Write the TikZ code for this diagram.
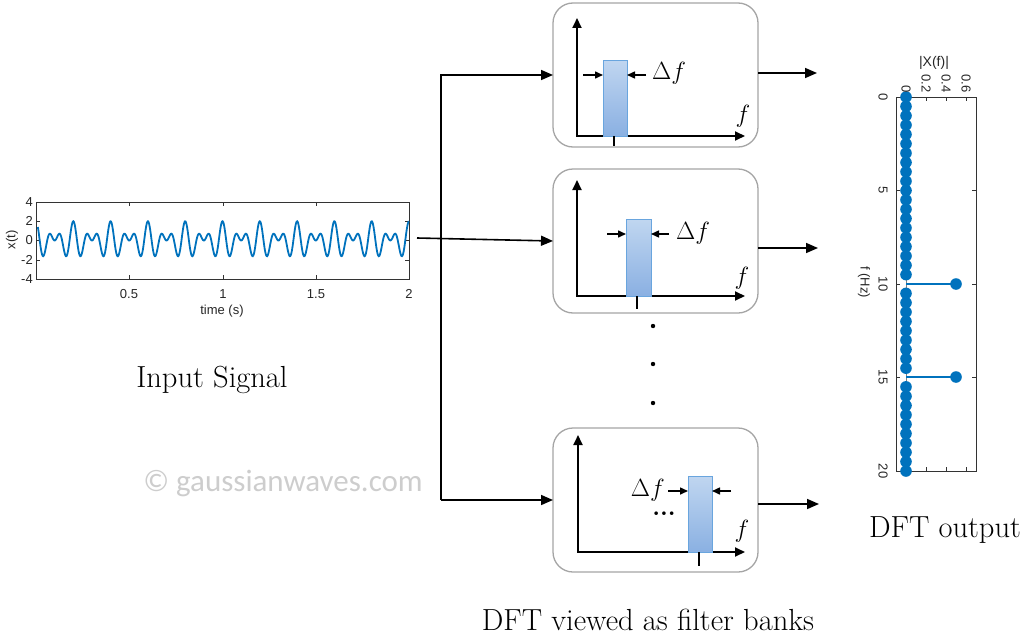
\documentclass[tikz,border=0pt]{standalone}
\usepackage{fontspec}
\newfontfamily\plotfont{Liberation Sans}
\newfontfamily\markfont{Carlito}
\usetikzlibrary{arrows.meta}

\definecolor{matblue}{rgb}{0,0.447,0.741}
\definecolor{bandtop}{RGB}{192,214,240}
\definecolor{bandbot}{RGB}{138,176,226}
\definecolor{bandedge}{RGB}{105,165,222}
\definecolor{boxgray}{RGB}{165,165,165}
\definecolor{markgray}{RGB}{205,205,205}

\tikzset{
  bank/.style={draw=boxgray, line width=1.3pt, rounded corners=20pt,
    minimum width=205pt, minimum height=144pt, inner sep=0pt, outer sep=0pt},
  flow/.style={line width=1.6pt, -{Triangle[length=12pt,width=10pt]}},
  faxis/.style={line width=1.8pt, {Triangle[length=10pt,width=9pt]}-{Triangle[length=10pt,width=9pt]}},
  band/.style={draw=bandedge, line width=0.7pt, top color=bandtop, bottom color=bandbot},
  narrow/.style={line width=1.5pt, -{Triangle[length=8pt,width=7pt]}},
  caption/.style={font=\fontsize{30.5}{35}\selectfont},
  plotlabel/.style={font=\plotfont\fontsize{13}{15}\selectfont, text=black!85},
  plotframe/.style={draw=black!80, line width=0.6pt, inner sep=0pt, outer sep=0pt},
  deltalabel/.style={font=\fontsize{24}{28}\selectfont},
}

\begin{document}
\begin{tikzpicture}[x=1pt,y=-1pt]
  \useasboundingbox (0,0) rectangle (1024,642);

  % input signal
  \node[plotframe, minimum width=373pt, minimum height=77pt] (sig) at (222.5,240.5) {};
  \foreach \x in {129,223,316} {
    \draw[black!80, line width=0.5pt] (\x,279) -- (\x,275) (\x,202) -- (\x,206);
  }
  \foreach \y in {221,240.5,260} {
    \draw[black!80, line width=0.5pt] (36,\y) -- (40,\y) (409,\y) -- (405,\y);
  }
  \draw[matblue, line width=1.8pt, domain=0.01:2, samples=700, smooth]
    plot ({36+186.5*\x}, {240.5-9.625*(cos(3600*\x)+cos(5400*\x))});
  \foreach \v/\y [count=\i] in {4/202, 2/221, 0/240.5, -2/260, -4/279} {
    \node[plotlabel, anchor=east, inner sep=1pt] (sy\i) at (34,\y) {\v};
  }
  \foreach \v/\x [count=\i] in {0.5/129, 1/223, 1.5/316, 2/409} {
    \node[plotlabel, inner sep=1pt] (sx\i) at (\x,294) {\v};
  }
  \node[plotlabel] (tlab) at (222,311) {time (s)};
  \node[plotlabel, rotate=90] (xlab) at (12,240) {x(t)};

  \node[caption] (insig) at (212,380) {Input Signal};
  \node[font=\markfont\fontsize{31}{35}\selectfont, text=markgray] (mark) at (283,483) {© gaussianwaves.com};

  % filter banks
  \node[bank] (bankA) at (655.5,75) {};
  \node[bank] (bankB) at (655.5,241) {};
  \node[bank] (bankC) at (655.5,500) {};

  \coordinate (sigout) at (417,238);
  \coordinate (splitA) at (441,75);
  \coordinate (splitC) at (441,500);
  \draw[flow] (sigout) -- (bankB.west);
  \draw[flow] (splitC) -- (splitA) -- (bankA.west);
  \draw[flow] (splitC) -- (bankC.west);

  % bank A
  \draw[faxis] (577,18) -- (577,136) -- (745,136);
  \path[band] (603,60) rectangle (627,136);
  \draw[line width=1.5pt] (614,136) -- (614,146);
  \draw[narrow] (583,75) -- (603,75);
  \draw[narrow] (646,75) -- (627,75);
  \node[deltalabel, anchor=west, inner sep=0pt] (dfA) at (652,73) {$\Delta f$};
  \node[deltalabel] (fA) at (743,116) {$f$};

  % bank B
  \draw[faxis] (577,180) -- (577,296) -- (745,296);
  \path[band] (626,219) rectangle (651,296);
  \draw[line width=1.5pt] (637,296) -- (637,309);
  \draw[narrow] (607,234) -- (626,234);
  \draw[narrow] (669,234) -- (651,234);
  \node[deltalabel, anchor=west, inner sep=0pt] (dfB) at (676,233) {$\Delta f$};
  \node[deltalabel] (fB) at (742,278) {$f$};

  % bank C
  \draw[faxis] (578,435) -- (578,552) -- (745,552);
  \path[band] (688,476) rectangle (712,552);
  \draw[line width=1.5pt] (699,552) -- (699,566);
  \draw[narrow] (668,491) -- (688,491);
  \draw[narrow] (731,491) -- (712,491);
  \node[deltalabel, anchor=east, inner sep=0pt] (dfC) at (665,490) {$\Delta f$};
  \node[font=\fontsize{25}{28}\selectfont\bfseries] (more) at (664,514) {...};
  \node[deltalabel] (fC) at (742,531) {$f$};

  \foreach \y in {326,364,403} {
    \fill (653,\y) circle (2.2pt);
  }

  \coordinate (outA) at (817,73);
  \coordinate (outB) at (818,248);
  \coordinate (outC) at (819,504);
  \draw[flow] (bankA.east |- outA) -- (outA);
  \draw[flow] (bankB.east |- outB) -- (outB);
  \draw[flow] (bankC.east |- outC) -- (outC);

  \node[caption] (banks) at (648,620) {DFT viewed as filter banks};

  % DFT output
  \node[plotframe, minimum width=80pt, minimum height=374pt] (dft) at (936,284) {};
  \foreach \x in {926,946,966} {
    \draw[black!80, line width=0.5pt] (\x,97) -- (\x,101) (\x,471) -- (\x,467);
  }
  \foreach \y in {190,284,377} {
    \draw[black!80, line width=0.5pt] (896,\y) -- (900,\y) (976,\y) -- (972,\y);
  }
  \draw[gray, line width=0.6pt] (906,97) -- (906,471);
  \draw[matblue, line width=1.3pt] (906,284) -- (956,284) (906,377) -- (956,377);
  \foreach \k in {0,...,40} {
    \ifnum\k=20 \else\ifnum\k=30 \else
      \fill[matblue] (906,{97+9.35*\k}) circle (5.8pt);
    \fi\fi
  }
  \fill[matblue] (956,284) circle (5.8pt);
  \fill[matblue] (956,377) circle (5.8pt);

  \foreach \v/\y [count=\i] in {0/97, 5/190, 10/284, 15/377, 20/471} {
    \node[plotlabel, rotate=-90, inner sep=1pt] (fy\i) at (883,\y) {\v};
  }
  \foreach \v/\x [count=\i] in {0/906, 0.2/926, 0.4/946, 0.6/966} {
    \node[plotlabel, rotate=-90, anchor=east, inner sep=1pt] (mx\i) at (\x,94) {\v};
  }
  \node[plotlabel, font=\plotfont\fontsize{14}{16}\selectfont] (maglab) at (934,63) {|X(f)|};
  \node[plotlabel, rotate=-90] (hzlab) at (864,282) {f (Hz)};

  \node[caption] (dftout) at (945,530) {DFT output};
\end{tikzpicture}
\end{document}
